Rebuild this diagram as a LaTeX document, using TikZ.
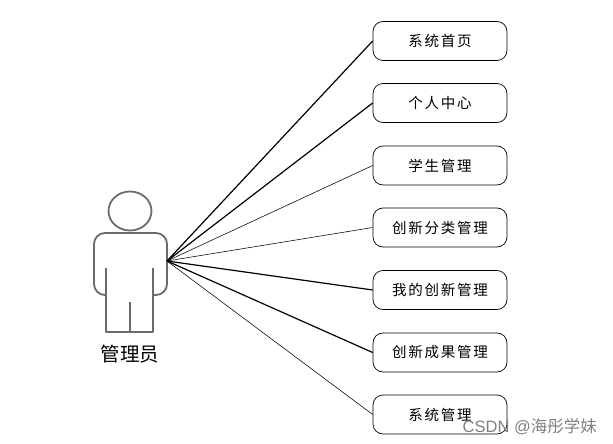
\documentclass[tikz,border=0pt]{standalone}
\usepackage{fontspec}
\newfontfamily\cjk{Noto Sans CJK SC}
\newfontfamily\cjkwide[LetterSpace=12]{Noto Sans CJK SC}
\setmainfont{Liberation Sans}
\tikzset{
	funcbox/.style={draw, rounded corners=10pt, minimum width=134pt, minimum height=39pt, line width=.7pt, inner sep=0pt, font=\cjkwide\fontsize{14.5}{16}\selectfont},
	actorline/.style={draw=black!58, line width=1.8pt, line join=round},
	boldlink/.style={line width=1.2pt},
	thinlink/.style={line width=.55pt}
}
\begin{document}
\begin{tikzpicture}[x=1pt, y=-1pt]
	\useasboundingbox (0,0) rectangle (613,444);
	\draw[actorline] (130,211) ellipse (21.5 and 19.5);
	\draw[actorline, rounded corners=11pt] (106,295) -- (94,295) -- (94,233) -- (167,233) -- (167,295) -- (153,295);
	\draw[actorline] (106,268) -- (106,332) -- (153,332) -- (153,268);
	\draw[actorline] (130,302) -- (130,332);
	\node[font=\cjk\fontsize{19.5}{22}\selectfont] (adminlabel) at (130,354) {管理员};
	\coordinate (admin) at (167,261);
	\node[funcbox] (m1) at (440,41) {系统首页};
	\node[funcbox] (m2) at (440,103) {个人中心};
	\node[funcbox] (m3) at (440,165.5) {学生管理};
	\node[funcbox] (m4) at (440,227.5) {创新分类管理};
	\node[funcbox] (m5) at (440,290) {我的创新管理};
	\node[funcbox] (m6) at (440,352.5) {创新成果管理};
	\node[funcbox] (m7) at (440,414.5) {系统管理};
	\foreach \i in {1,2,5,6} {
		\draw[boldlink] (admin) -- (m\i.west);
	}
	\foreach \i in {3,4,7} {
		\draw[thinlink] (admin) -- (m\i.west);
	}
	\node[text=black!50, font=\fontsize{16.5}{18}\selectfont, anchor=east, inner sep=0pt] (mark) at (597,427) {CSDN @{\cjk 海彤学妹}};
\end{tikzpicture}
\end{document}
